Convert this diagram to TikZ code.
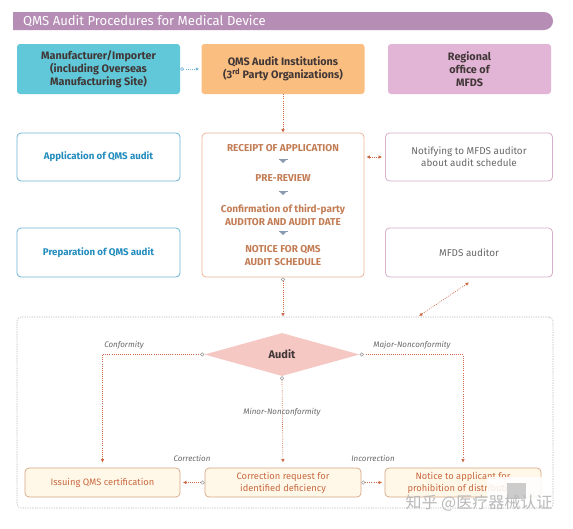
\documentclass[tikz,border=0pt]{standalone}
\usepackage{fontspec}
\setmainfont{Fira Sans}
\newfontfamily\cjk{Noto Sans CJK SC}
\usetikzlibrary{arrows.meta,shapes.geometric}
\definecolor{titlec}{RGB}{181,141,181}
\definecolor{cyanc}{RGB}{96,200,216}
\definecolor{orangec}{RGB}{250,190,128}
\definecolor{pinkc}{RGB}{226,180,214}
\definecolor{darktxt}{RGB}{65,55,55}
\definecolor{bluebd}{RGB}{110,180,215}
\definecolor{bluetxt}{RGB}{35,140,190}
\definecolor{midbd}{RGB}{235,182,150}
\definecolor{midtxt}{RGB}{195,125,85}
\definecolor{pinkbd}{RGB}{215,175,205}
\definecolor{graytxt}{RGB}{105,105,105}
\definecolor{arrc}{RGB}{205,105,70}
\definecolor{regc}{RGB}{185,185,185}
\definecolor{diamc}{RGB}{245,200,196}
\definecolor{botfill}{RGB}{255,248,232}
\definecolor{botbd}{RGB}{215,165,130}
\definecolor{bottxt}{RGB}{200,105,65}
\definecolor{glyphc}{RGB}{140,155,180}
\definecolor{dotc}{RGB}{150,150,150}
\tikzset{
  odot/.tip={Circle[open,length=4pt,width=4pt,fill=white,color=dotc,line width=0.5pt]},
  bdot/.tip={Circle[open,length=3.5pt,width=3.5pt,fill=white,color=bluebd,line width=0.5pt]},
  ah/.tip={Latex[length=3.5pt,width=3.5pt]}
}
\begin{document}
\begin{tikzpicture}[x=1pt,y=1pt,
  topbox/.style={rectangle, rounded corners=3pt, minimum width=163pt, minimum height=50pt, align=center, inner sep=0pt,
    text=darktxt, font=\fontseries{sb}\selectfont\fontsize{10.8}{13}\selectfont},
  leftbox/.style={rectangle, rounded corners=4pt, draw=bluebd, line width=0.8pt, minimum width=163pt, align=center,
    text=bluetxt, font=\fontseries{sb}\selectfont\fontsize{9.7}{11}\selectfont},
  rightbox/.style={rectangle, rounded corners=4pt, draw=pinkbd, line width=0.8pt, minimum width=167pt, align=center,
    text=graytxt, font=\fontseries{l}\selectfont\fontsize{9.9}{12}\selectfont},
  steptxt/.style={align=center, text=midtxt, font=\fontseries{sb}\selectfont\fontsize{10}{12.3}\selectfont, inner sep=0pt},
  botbox/.style={rectangle, rounded corners=4pt, draw=botbd, fill=botfill, line width=0.7pt, minimum width=156pt,
    minimum height=29pt, align=center, text=bottxt, font=\fontsize{9.3}{12}\selectfont, inner sep=0pt},
  lbl/.style={text=graytxt, font=\fontseries{l}\itshape\fontsize{8}{9}\selectfont, inner sep=0pt},
  conn/.style={draw=arrc, line width=0.7pt, dash pattern=on 0.8pt off 1.3pt, -ah},
  dn/.pic={\fill[glyphc] (-3.2,1.0) -- (3.2,1.0) -- (0,-2.2) -- cycle;
           \draw[glyphc,line width=0.5pt] (-4.5,2.2) -- (4.5,2.2);}
]
\useasboundingbox (0,0) rectangle (573,-528);
\fill[white] (0,0) rectangle (573,-528);

% title bar
\fill[titlec] (13,-30) -- (13,-12) -- (544,-12) arc[start angle=90,end angle=-90,radius=9pt] -- cycle;
\node[anchor=west, text=white, font=\fontsize{13.1}{14}\selectfont, inner sep=0pt] (title) at (23,-21) {QMS Audit Procedures for Medical Device};

% row 1
\node[topbox, fill=cyanc] (mfr) at (98.5,-69) {Manufacturer/Importer\\(including Overseas\\Manufacturing Site)};
\node[topbox, fill=orangec] (qms) at (283,-69) {QMS Audit Institutions\\(3\textsuperscript{rd} Party Organizations)};
\node[topbox, fill=pinkc] (reg) at (469.5,-69) {Regional\\office of\\MFDS};

% row 2/3
\node[leftbox, minimum height=48pt] (app) at (98.5,-157) {Application of QMS audit};
\node[leftbox, minimum height=49pt] (prep) at (98.5,-252.5) {Preparation of QMS audit};
\node[rectangle, rounded corners=4pt, draw=midbd, line width=0.8pt, minimum width=162pt, minimum height=144pt] (mid) at (283,-205) {};
\node[rightbox, minimum height=48pt] (notif) at (469,-157) {Notifying to MFDS auditor\\about audit schedule};
\node[rightbox, minimum height=49pt] (aud) at (469,-252.5) {MFDS auditor};

% steps inside middle box
\node[steptxt] (s1) at (283,-148) {RECEIPT OF APPLICATION};
\node[steptxt] (s2) at (283,-178) {PRE-REVIEW};
\node[steptxt] (s3) at (283,-215) {Confirmation of third-party\\AUDITOR AND AUDIT DATE};
\node[steptxt] (s4) at (283,-255.5) {NOTICE FOR QMS\\AUDIT SCHEDULE};
\pic at (283,-161) {dn};
\pic at (283,-193) {dn};
\pic at (283,-233) {dn};

% audit region
\node[rectangle, rounded corners=4pt, draw=regc, line width=0.6pt, dash pattern=on 1.2pt off 1.2pt,
  minimum width=536pt, minimum height=191pt] (region) at (285,-412.5) {};
\coordinate (rtop) at (419,-316);

\node[diamond, fill=diamc, minimum width=155pt, minimum height=43pt, aspect=3.6, inner sep=0pt,
  text=darktxt, font=\fontseries{sb}\selectfont\fontsize{11}{12}\selectfont] (audit) at (282,-354.5) {Audit};

% bottom boxes
\node[botbox, minimum width=155pt] (issue) at (102.5,-482.5) {Issuing QMS certification};
\node[botbox] (corr) at (283,-482.5) {Correction request for\\identified deficiency};
\node[botbox] (notice) at (463,-482.5) {Notice to applicant for\\prohibition of distribution};

% connectors
\draw[conn, draw=bluebd, bdot-{Latex[length=3.5pt,width=3.5pt,color=bluebd]}]
  (mfr.east) -- ([xshift=-2pt]qms.west);
\draw[conn] (qms.south) -- (mid.north);
\draw[conn, ah-ah, shorten <=2pt, shorten >=3pt]
  (mid.east |- notif.west) -- (notif.west);
\draw[conn, odot-ah] (mid.south) -- (mid.south |- region.north);
\draw[conn, ah-ah] ([yshift=-5pt]aud.south) -- (rtop);

\draw[conn, odot-ah, shorten >=5pt] (audit.west) -| (issue.north);
\draw[conn, odot-ah, shorten >=5pt] (audit.east) -| (notice.north);
\draw[conn, odot-ah, shorten >=5pt] (audit.south) -- (corr.north);
\draw[conn, odot-ah, shorten >=2.5pt] (corr.west) -- (issue.east);
\draw[conn, odot-ah, shorten >=2.5pt] (corr.east) -- (notice.west);

% labels
\node[lbl] (l1) at (124,-345) {Conformity};
\node[lbl] (l2) at (412,-345) {Major-Nonconformity};
\node[lbl] (l3) at (282,-412) {Minor-Nonconformity};
\node[lbl] (l4) at (192,-458) {Correction};
\node[lbl] (l5) at (373,-458) {Incorrection};

% watermark
\fill[white, opacity=0.85] (487,-477) rectangle (542,-500);
\fill[gray!40] (507,-483) rectangle (526,-499);
\node[text=gray!55, font=\cjk\fontsize{16}{16}\selectfont, inner sep=0pt] (wm) at (479,-503) {知乎 @医疗器械认证};
\end{tikzpicture}
\end{document}
